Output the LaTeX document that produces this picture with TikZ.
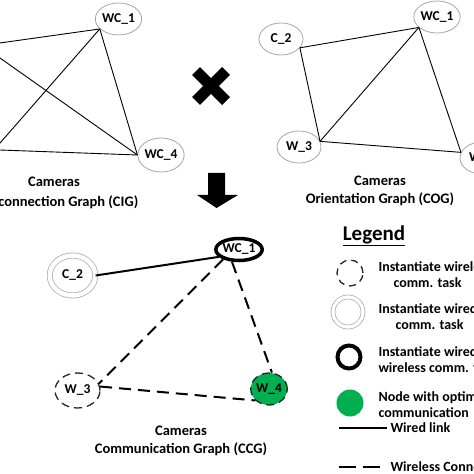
\documentclass[tikz,border=0pt]{standalone}
\usepackage{fontspec}
\setmainfont{Carlito}
\usetikzlibrary{shapes.geometric}
\definecolor{OptGreen}{HTML}{00B050}
\definecolor{RimGray}{HTML}{A6A6A6}

\begin{document}
\begin{tikzpicture}[x=1bp, y=-1bp,
  every node/.style={font=\bfseries\fontsize{13.5bp}{15bp}\selectfont},
  cam/.style={ellipse, draw=RimGray, line width=0.8bp, inner sep=0pt, minimum width=43bp, minimum height=32bp},
  link/.style={line width=0.9bp},
  caption/.style={align=center, font=\bfseries\fontsize{14.5bp}{20bp}\selectfont},
  wirednode/.style={ellipse, draw=RimGray, line width=0.7bp, double=white, double distance=4.5bp, inner sep=0pt},
  wlessnode/.style={ellipse, draw=black!85, line width=1.3bp, dash pattern=on 8bp off 5bp, inner sep=0pt},
  bothnode/.style={ellipse, draw=black, line width=3.5bp, inner sep=0pt},
  wire/.style={line width=2bp},
  radio/.style={line width=2bp, dash pattern=on 12bp off 7bp},
  legtext/.style={anchor=west, align=left, font=\bfseries\fontsize{14bp}{16bp}\selectfont}]
  \useasboundingbox (0,0) rectangle (474,474);

  % interconnection graph, two of its cameras sit past the left edge
  \node[cam] (iwc1) at (118.5,19) {WC\_1};
  \node[cam, minimum width=44bp, minimum height=34bp] (iwc4) at (161,155) {WC\_4};
  \coordinate (ic2a) at (-3,43.4);
  \coordinate (ic2b) at (-3,55.9);
  \coordinate (iw3a) at (-3,146.5);
  \coordinate (iw3b) at (-3,149.9);
  \draw[link] (ic2a) -- (iwc1.208);
  \draw[link] (iw3a) -- (iwc1.208);
  \draw[link] (ic2b) -- (iwc4.west);
  \draw[link] (iw3b) -- (iwc4.west);
  \draw[link] (iwc1.208) -- (iwc4.west);
  \node[caption] (icap) at (54,192.5) {Cameras\\Interconnection Graph (CIG)};

  % product sign and the arrow down
  \draw[line width=11bp] (196,71) -- (226,101);
  \draw[line width=11bp] (226,71) -- (196,101);
  \fill (208,173) -- (225,173) -- (225,195) -- (238,195) -- (216.5,208)
    -- (197,195) -- (208,195) -- cycle;

  % orientation graph
  \node[cam, minimum width=40bp] (owc1) at (437,17) {WC\_1};
  \node[cam, minimum width=44bp] (oc2) at (281,39) {C\_2};
  \node[cam, minimum width=44bp] (ow3) at (299,147) {W\_3};
  \node[cam, minimum width=44bp] (ow4) at (482,158) {W\_4};
  \draw[link] (oc2.335) -- (owc1.210);
  \draw[link] (oc2.335) -- (ow3.15);
  \draw[link] (ow3.15) -- (owc1.210);
  \draw[link] (owc1.210) -- (ow4.165);
  \draw[link] (ow3.15) -- (ow4.165);
  \node[caption, font=\bfseries\fontsize{14.5bp}{18bp}\selectfont] (ocap) at (380,191) {Cameras\\Orientation Graph (COG)};

  % communication graph
  \node[bothnode, minimum width=45bp, minimum height=22bp] (cwc1) at (239,249.5) {WC\_1};
  \node[wirednode, minimum width=45.5bp, minimum height=40bp] (cc2) at (72.5,275.5) {C\_2};
  \node[wlessnode, minimum width=45bp, minimum height=35bp] (cw3) at (77.5,390.5) {W\_3};
  \node[wlessnode, fill=OptGreen, minimum width=32bp, minimum height=32bp] (cw4) at (269,389) {W\_4};
  \draw[wire] (cc2.east) -- (cwc1.200);
  \draw[radio] (cwc1.212) -- (cw3.18);
  \draw[radio] (cwc1.240) -- (cw4.80);
  \draw[radio] (cw3.10) -- (cw4.220);
  \node[caption, font=\bfseries\fontsize{14.5bp}{18bp}\selectfont] (ccap) at (181,441) {Cameras\\Communication Graph (CCG)};

  % legend
  \node[font=\bfseries\fontsize{21bp}{24bp}\selectfont] (leg) at (374,236) {\underline{Legend}};
  \node[circle, draw=black!85, line width=1.3bp, dash pattern=on 7bp off 5bp, minimum size=26bp] (lg1) at (350,273) {};
  \node[circle, draw=RimGray, line width=0.7bp, double=white, double distance=3.3bp, minimum size=30bp] (lg2) at (348,312) {};
  \node[circle, draw=black, line width=4bp, minimum size=23bp] (lg3) at (349,357) {};
  \node[circle, fill=OptGreen, minimum size=27bp] (lg4) at (350,403) {};
  \node[legtext] (lt1) at (375,275) {Instantiate wireless\\\hspace*{15bp}comm. task};
  \node[legtext] (lt2) at (375,316.5) {Instantiate wired\\\hspace*{17bp}comm. task};
  \node[legtext] (lt3) at (375,359.5) {Instantiate wired and\\wireless comm. task};
  \node[legtext] (lt4) at (375,405) {Node with optimal\\communication};
  \node[legtext] (lt5) at (387,428) {Wired link};
  \node[legtext] (lt6) at (387,467) {Wireless Connection};
  \coordinate (lw5) at (339,428);
  \coordinate (lw6) at (339,467);
  \draw[wire] (lw5) -- (lt5.west);
  \draw[wire, dash pattern=on 17bp off 7bp] (lw6) -- (lt6.west);
\end{tikzpicture}
\end{document}
